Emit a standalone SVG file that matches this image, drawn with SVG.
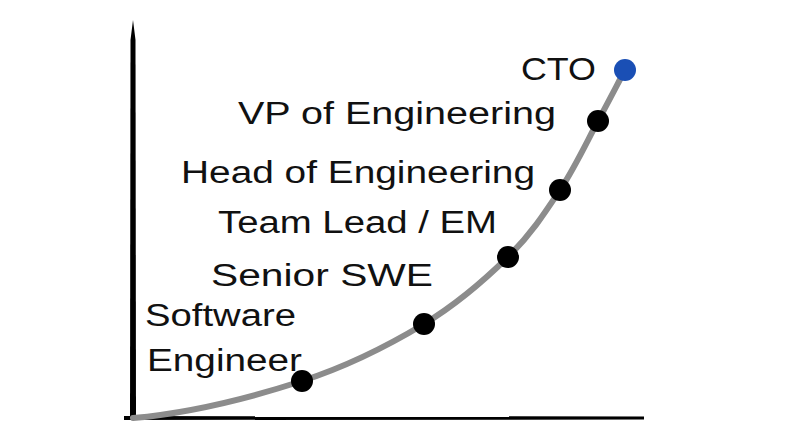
<svg xmlns="http://www.w3.org/2000/svg" width="800" height="447" viewBox="0 0 800 447">
<style>
.lbl{font-family:"Liberation Sans","DejaVu Sans",sans-serif;font-size:31px;fill:#111;}
.dot{fill:#000;}
</style>
<rect width="800" height="447" fill="#fff"/>
<g id="axes">
<polygon points="130,419 130.5,40 133,20 135.5,40 136,419" fill="#000"/>
<polygon points="124,416 644,416.5 644,419.5 124,420" fill="#000"/>
</g>
<g id="connectors">
<path d="M133,418 C189.3,413 253.5,396.7 302,381 C350.5,365.3 389.7,344.7 424,324 C458.3,303.3 485.3,279.3 508,257 C530.7,234.7 545,212.7 560,190 C575,167.3 587.2,141 598,121 C608.8,101 616,87 625,70" fill="none" stroke="#8c8c8c" stroke-width="6" stroke-linecap="round"/>
</g>
<g id="software-engineer">
<circle class="dot" cx="302" cy="381" r="11"/>
<text class="lbl" x="145" y="326" textLength="151" lengthAdjust="spacingAndGlyphs">Software</text>
<text class="lbl" x="147" y="371" textLength="155" lengthAdjust="spacingAndGlyphs">Engineer</text>
</g>
<g id="senior-swe">
<circle class="dot" cx="424" cy="324" r="11"/>
<text class="lbl" x="211" y="286" textLength="222" lengthAdjust="spacingAndGlyphs">Senior SWE</text>
</g>
<g id="team-lead">
<circle class="dot" cx="508" cy="257" r="11"/>
<text class="lbl" x="218" y="233" textLength="279" lengthAdjust="spacingAndGlyphs">Team Lead / EM</text>
</g>
<g id="head-of-engineering">
<circle class="dot" cx="560" cy="190" r="11"/>
<text class="lbl" x="181" y="183" textLength="354" lengthAdjust="spacingAndGlyphs">Head of Engineering</text>
</g>
<g id="vp-of-engineering">
<circle class="dot" cx="598" cy="121" r="11"/>
<text class="lbl" x="238" y="124" textLength="318" lengthAdjust="spacingAndGlyphs">VP of Engineering</text>
</g>
<g id="cto">
<circle cx="625" cy="70" r="11" fill="#1a4fb5"/>
<text class="lbl" x="521" y="80" textLength="75" lengthAdjust="spacingAndGlyphs">CTO</text>
</g>
</svg>
